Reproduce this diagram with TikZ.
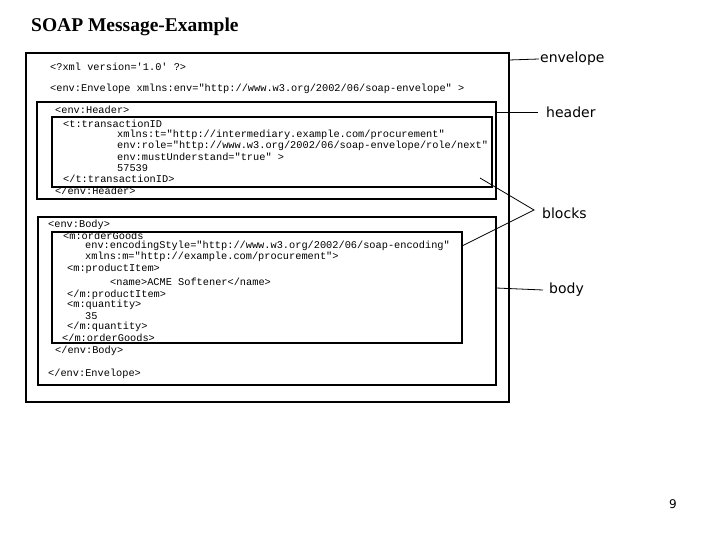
\documentclass[tikz,border=0pt]{standalone}
\usepackage{fontspec}
\setmonofont{Liberation Mono}
\newfontfamily\lblfont{DejaVu Sans}
\newfontfamily\titlefont{Liberation Serif}
\begin{document}
\begin{tikzpicture}[x=1pt,y=-1pt,
  code/.style={anchor=west,inner sep=0pt,font=\ttfamily\fontsize{10.3}{11}\selectfont},
  lbl/.style={anchor=west,inner sep=0pt,font=\lblfont\fontsize{14}{16}\selectfont},
  thick box/.style={draw,line width=2.4pt},
  thin box/.style={draw,line width=1.6pt},
  lead/.style={draw,line width=0.8pt}]
\useasboundingbox (0,0) rectangle (720,540);
\node[anchor=west,inner sep=0pt,font=\titlefont\bfseries\fontsize{19.5}{22}\selectfont] (title) at (31,27) {SOAP Message-Example};
\node[anchor=center,inner sep=0pt,font=\lblfont\fontsize{12}{14}\selectfont] (pg) at (673,504) {9};
% boxes
\draw[thick box] (26,53) rectangle (509,402);
\draw[thick box] (37,102) rectangle (496,199);
\draw[thin box] (52,117) rectangle (492,187);
\draw[thick box] (38,217) rectangle (496,385);
\draw[thin box] (52,232) rectangle (462,343);
% code
\node[code] (c1) at (50,67) {<?xml version='1.0' ?>};
\node[code] (c2) at (50,89) {<env:Envelope xmlns:env="http://www.w3.org/2002/06/soap-envelope" >};
\node[code] (c3) at (55,110) {<env:Header>};
\node[code] (c4) at (63,124) {<t:transactionID};
\node[code] (c5) at (117,135) {xmlns:t="http://intermediary.example.com/procurement"};
\node[code] (c6) at (117,146) {env:role="http://www.w3.org/2002/06/soap-envelope/role/next"};
\node[code] (c7) at (117,157) {env:mustUnderstand="true" >};
\node[code] (c8) at (117,168) {57539};
\node[code] (c9) at (63,179) {</t:transactionID>};
\node[code] (c10) at (55,191) {</env:Header>};
\node[code] (c11) at (48,225) {<env:Body>};
\node[code] (c12) at (63,236) {<m:orderGoods};
\node[code] (c13) at (85,246) {env:encodingStyle="http://www.w3.org/2002/06/soap-encoding"};
\node[code] (c14) at (85,257) {xmlns:m="http://example.com/procurement">};
\node[code] (c15) at (67,269) {<m:productItem>};
\node[code] (c16) at (110,282) {<name>ACME Softener</name>};
\node[code] (c17) at (67,295) {</m:productItem>};
\node[code] (c18) at (67,305) {<m:quantity>};
\node[code] (c19) at (85,316) {35};
\node[code] (c20) at (67,327) {</m:quantity>};
\node[code] (c21) at (62,338) {</m:orderGoods>};
\node[code] (c22) at (55,351) {</env:Body>};
\node[code] (c23) at (48,374) {</env:Envelope>};
% labels
\node[lbl] (lenv) at (540,59) {envelope};
\node[lbl] (lhead) at (546,112) {header};
\node[lbl] (lblk) at (542,213) {blocks};
\node[lbl] (lbody) at (549,290) {body};
\coordinate (e0) at (509,60);
\coordinate (h0) at (496,112);
\coordinate (b1) at (480,178);
\coordinate (b2) at (462,246);
\coordinate (bk) at (534,210);
\coordinate (y0) at (496,288);
\draw[lead] (e0) -- ([xshift=-1pt]lenv.west);
\draw[lead] (h0) -- ([xshift=-8pt]lhead.west);
\draw[lead] (b1) -- (bk) -- (b2);
\draw[lead] (y0) -- ([xshift=-6pt]lbody.west);
\end{tikzpicture}
\end{document}
